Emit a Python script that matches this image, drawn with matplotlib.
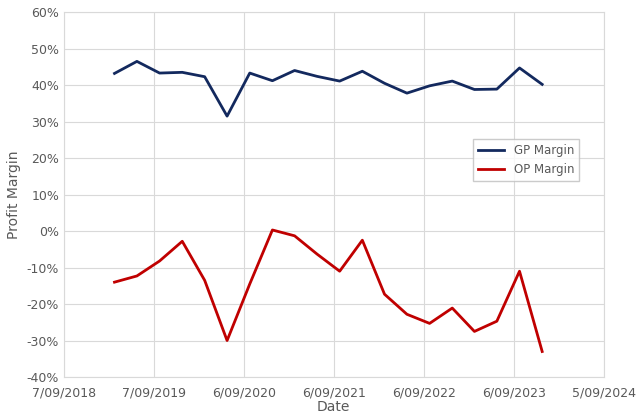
import matplotlib
matplotlib.use("Agg")
import matplotlib.pyplot as plt
import pandas as pd
import numpy as np

dates = pd.date_range("2019-03-31", periods=20, freq="QE")
gp_margin = [43.2, 46.5, 43.3, 43.5, 42.3, 31.5, 43.3, 41.2, 44.0, 42.4, 41.1, 43.8, 40.5, 37.8, 39.8, 41.1, 38.8, 38.9, 44.7, 40.2]
op_margin = [-14.0, -12.3, -8.2, -2.8, -13.5, -30.0, -14.5, 0.3, -1.3, -6.3, -11.0, -2.5, -17.3, -22.8, -25.3, -21.1, -27.5, -24.7, -11.0, -33.0]

fig = plt.figure(figsize=(6.4, 4.18), dpi=100)
ax = fig.add_axes([0.1, 0.098, 0.843, 0.873])
ax.plot(dates, gp_margin, color="#13295e", lw=2, label="GP Margin")
ax.plot(dates, op_margin, color="#c00000", lw=2, label="OP Margin")

start = pd.Timestamp("2018-09-07")
ticks = [start + pd.Timedelta(days=365 * i) for i in range(7)]
ax.set_xlim(ticks[0], ticks[-1])
ax.set_xticks(ticks)
ax.set_xticklabels([f"{t.day}/{t.month:02d}/{t.year}" for t in ticks])
ax.set_ylim(-40, 60)
ax.set_yticks(np.arange(-40, 61, 10))
ax.set_yticklabels([f"{v}%" for v in range(-40, 61, 10)])
ax.grid(True, color="#d9d9d9", lw=0.8)
for s in ax.spines.values():
    s.set_color("#d9d9d9")
ax.tick_params(colors="#595959", labelsize=9, length=0)
ax.tick_params(axis="x", pad=7)
ax.set_xlabel("Date", color="#595959", fontsize=10, labelpad=0)
ax.set_ylabel("Profit Margin", color="#595959", fontsize=10)
leg = ax.legend(loc="center right", bbox_to_anchor=(0.965, 0.595), fontsize=8.5, frameon=True,
                fancybox=False, edgecolor="#bfbfbf", labelcolor="#595959", handlelength=2.2)
fig.savefig("out.png", dpi=100)
